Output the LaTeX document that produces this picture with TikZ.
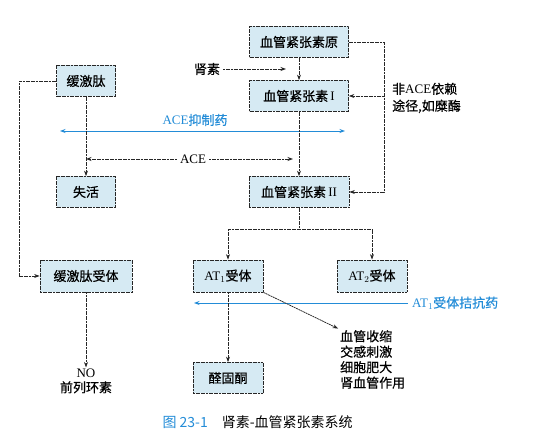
\documentclass[tikz,border=0pt]{standalone}
\usepackage{fontspec}
\setmainfont{Liberation Serif}
\newfontfamily\cjk[FakeBold=0.6]{Noto Sans CJK SC}
\newfontfamily\capfont{Noto Sans CJK SC}
\usepackage{tikz}
\usetikzlibrary{positioning,arrows.meta,calc}

\definecolor{boxfill}{RGB}{214,234,243}
\definecolor{drugblue}{RGB}{35,140,215}

\begin{document}
\begin{tikzpicture}[
    x=1pt, y=-1pt,
    box/.style={rectangle, draw=black!85, dash pattern=on 2pt off 0.6pt, line width=0.75pt, fill=boxfill, minimum width=99pt, minimum height=31pt, inner sep=2pt, font=\fontsize{13}{15}\selectfont},
    note/.style={inner sep=1pt, font=\fontsize{13}{15}\selectfont},
    arrow/.style={-{Stealth[length=5.5pt,width=4pt]}, black!85, line width=0.75pt, dash pattern=on 2pt off 0.6pt},
    line/.style={black!85, line width=0.75pt, dash pattern=on 2pt off 0.6pt},
    drug/.style={drugblue, line width=0.8pt},
]
    \useasboundingbox (0,0) rectangle (547,435);

    % Main column
    \node[box] (agt) at (299,42) {\cjk 血管紧张素原};
    \node[box] (ang1) at (299,96) {{\cjk 血管紧张素}\,I};
    \node[box, minimum width=100pt] (ang2) at (299,192) {{\cjk 血管紧张素}\,II};

    % Kinin side
    \node[box, minimum width=59pt] (bk) at (86,81) {\cjk 缓激肽};
    \node[box, minimum width=59pt] (inact) at (86,192) {\cjk 失活};
    \node[box, minimum width=92pt, minimum height=32pt] (bkr) at (86,276) {\cjk 缓激肽受体};

    % Receptors
    \node[box, minimum width=70pt, minimum height=32pt] (at1) at (228,276) {AT$_1${\cjk 受体}};
    \node[box, minimum width=70pt, minimum height=32pt] (at2) at (372,276) {AT$_2${\cjk 受体}};
    \node[box, minimum width=70pt, minimum height=31pt] (ald) at (228,378) {\cjk 醛固酮};

    % Labels
    \node[note] (renin) at (207,69) {\cjk 肾素};
    \node[note] (ace) at (193,159) {ACE};
    \node[note, anchor=west, align=left, font=\fontsize{13}{17}\selectfont] (nonace) at (391,98) {{\cjk 非}ACE{\cjk 依赖}\\{\cjk 途径,如糜酶}};
    \node[note, align=center, font=\fontsize{13}{15}\selectfont] (no) at (86,381) {NO\\{\cjk 前列环素}};
    \node[note, anchor=north west, align=left, font=\cjk\fontsize{13}{15.5}\selectfont] (effects) at (339,329) {血管收缩\\交感刺激\\细胞肥大\\肾血管作用};
    \node[note, drugblue] (acei) at (195,120) {ACE{\cjk 抑制药}};
    \node[note, drugblue, anchor=west] (arb) at (411,303) {AT$_1${\cjk 受体拮抗药}};

    % Drug arrows
    \coordinate (acei-l) at (60,131);
    \coordinate (acei-r) at (345,131);
    \coordinate (arb-end) at (194,303);
    \draw[drug, {Stealth[length=5.5pt,width=4pt]}-{Stealth[length=5.5pt,width=4pt]}] (acei-l) -- (acei-r);
    \draw[drug, -{Stealth[length=5.5pt,width=4pt]}, shorten <=3pt] (arb.west) -- (arb-end);

    % Main flow
    \draw[arrow] (agt) -- (ang1);
    \draw[arrow, shorten <=2pt, shorten >=13pt] (renin.east) -- (renin -| agt);
    \draw[arrow] (ang1) -- (ang2);
    \draw[arrow, shorten <=2pt] (ace.west) -- (ace -| bk);
    \draw[arrow, shorten <=2pt, shorten >=6pt] (ace.east) -- (ace -| ang1);

    % Non-ACE path
    \draw[arrow] (agt.east) -- ++(35,0) coordinate (nonace-top) |- (ang2.east);
    \draw[arrow] (nonace-top |- ang1.east) -- (ang1.east);

    % Kinin path
    \draw[arrow] (bk) -- (inact);
    \draw[arrow] (bk.west) -- ++(-37,0) |- (bkr.west);
    \draw[arrow] (bkr) -- (no);

    % Receptors
    \draw[line] (ang2.south) -- ++(0,22) coordinate (split);
    \draw[arrow] (split) -| (at1.north);
    \draw[arrow] (split) -| (at2.north);
    \draw[arrow] (at1) -- (ald);
    \draw[arrow, shorten >=1pt] (at1.south east) -- (effects.north west);

    % Caption
    \node[font=\capfont\fontsize{14}{16}\selectfont, anchor=west] (caption) at (159,422) {{\color{drugblue}图 23-1}\quad 肾素-血管紧张素系统};
\end{tikzpicture}
\end{document}
